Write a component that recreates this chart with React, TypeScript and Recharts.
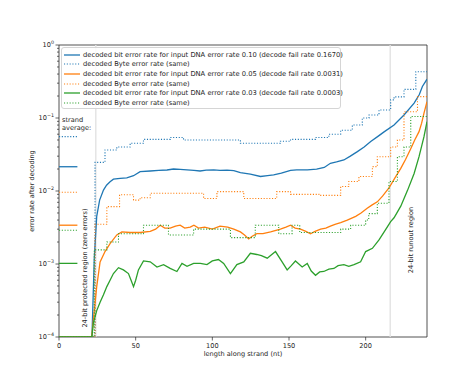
import React from "react";
import { LineChart, Line, XAxis, YAxis, ReferenceLine, ReferenceArea } from "recharts";

type Pt = [number, number];

// decoded bit / Byte error rate along the strand, input DNA error rate 0.10
const bit10: Pt[] = [
  [0, 1e-4], [21.5, 1e-4], [23, 0.0012], [24.6, 0.0045], [26.5, 0.0075], [29, 0.0103], [31, 0.012],
  [33.3, 0.0134], [35.5, 0.0145], [39.9, 0.0149], [44.2, 0.0151], [48.6, 0.0162], [52.9, 0.0184],
  [59.5, 0.0188], [65, 0.0192], [70.4, 0.0194], [74.7, 0.02], [79, 0.0198], [83.5, 0.0195],
  [88, 0.0192], [92, 0.0188], [96, 0.0193], [100.9, 0.0195], [105, 0.0192], [109.6, 0.0193],
  [114, 0.019], [118.3, 0.0178], [124.8, 0.017], [131.4, 0.0158], [136, 0.0162], [140, 0.0166],
  [145, 0.0176], [151, 0.0192], [155, 0.0195], [162, 0.0195], [168, 0.02], [173, 0.021],
  [177, 0.024], [181, 0.025], [185.8, 0.0266], [190, 0.03], [194.6, 0.0346], [199, 0.04],
  [203.3, 0.0476], [208, 0.056], [212, 0.0646], [218.5, 0.08], [225, 0.11], [231.6, 0.16],
  [235, 0.21], [237, 0.27], [240, 0.34],
];
const byte10: Pt[] = [
  [0, 1e-4], [23.5, 0.0247], [30, 0.0365], [37.7, 0.04], [46.4, 0.045], [55.1, 0.051], [72.5, 0.054],
  [81.2, 0.05], [118.3, 0.045], [144.4, 0.048], [151, 0.051], [167.3, 0.054], [176, 0.06],
  [183.7, 0.068], [191.3, 0.08], [197.8, 0.1], [202.2, 0.11], [208.7, 0.129], [216.3, 0.177],
  [218.5, 0.195], [225, 0.247], [232.7, 0.43], [240, 0.43],
];

// input DNA error rate 0.05
const bit05: Pt[] = [
  [0, 1e-4], [21.3, 1e-4], [22.4, 0.00017], [24.6, 0.00049], [26.8, 0.00107], [30, 0.00148],
  [33.3, 0.0019], [37.7, 0.0025], [41, 0.00275], [46.4, 0.0027], [52.9, 0.0027], [59.5, 0.0028],
  [63, 0.003], [66, 0.0034], [69, 0.0031], [72.5, 0.0031], [76, 0.0033], [79, 0.0034], [82, 0.0031],
  [85.6, 0.0032], [88, 0.0034], [91, 0.0031], [95, 0.0032], [100, 0.003], [105, 0.0033],
  [110, 0.0032], [114, 0.003], [118.3, 0.00275], [121, 0.0025], [123.7, 0.0022], [126, 0.0024],
  [129, 0.0026], [133, 0.0026], [138, 0.00275], [144.4, 0.003], [148, 0.0032], [151, 0.0034],
  [154, 0.0031], [157.5, 0.003], [161, 0.0028], [164, 0.0026], [167, 0.0028], [170.6, 0.003],
  [174, 0.0031], [177, 0.0033], [180, 0.0035], [183.7, 0.0037], [188, 0.004], [193.5, 0.0045],
  [197, 0.005], [201, 0.0058], [204, 0.0064], [207.6, 0.0071], [211, 0.0085], [215.2, 0.011],
  [219, 0.015], [222.9, 0.0204], [226, 0.027], [229.4, 0.038], [232, 0.05], [234.8, 0.065],
  [236.5, 0.085], [238, 0.116], [240, 0.167],
];
const byte05: Pt[] = [
  [0, 1e-4], [23.5, 0.0035], [31.2, 0.0061], [39.5, 0.0089], [48.6, 0.0075], [52.9, 0.0081],
  [59.5, 0.0093], [94.3, 0.0079], [103, 0.0098], [120.5, 0.0079], [142, 0.0098], [151, 0.009],
  [169.5, 0.0087], [183.7, 0.0115], [189, 0.0135], [195.6, 0.0158], [204.4, 0.0216],
  [207.6, 0.0295], [216.3, 0.04], [220.7, 0.05], [225, 0.122], [233.8, 0.196], [240, 0.196],
];

// input DNA error rate 0.03
const bit03: Pt[] = [
  [0, 1e-4], [21.4, 1e-4], [22.4, 0.000155], [24.6, 0.00023], [26.8, 0.0003], [29, 0.00038],
  [31.2, 0.00049], [33.3, 0.0006], [35.5, 0.00074], [38.8, 0.00089], [42, 0.00083], [45.3, 0.00074],
  [47, 0.0006], [48.6, 0.00049], [50, 0.0006], [51.8, 0.00083], [55.1, 0.0011], [59.5, 0.00107],
  [63.9, 0.00091], [68.2, 0.00098], [72.5, 0.00087], [76.9, 0.00079], [80.2, 0.00102],
  [83.5, 0.00093], [87.8, 0.00102], [92.2, 0.00102], [96.5, 0.00098], [100, 0.0011], [104, 0.00115],
  [107.4, 0.00102], [111.8, 0.00074], [116, 0.00098], [120.5, 0.00107], [124.8, 0.0014],
  [129, 0.00135], [132, 0.0013], [135.8, 0.0012], [141.2, 0.00148], [145.5, 0.00107],
  [148.8, 0.00083], [151.5, 0.00095], [154.2, 0.0011], [158.6, 0.00091], [161.9, 0.00102],
  [164.5, 0.0008], [167.3, 0.0007], [170, 0.00078], [172.7, 0.00079], [176, 0.00085],
  [179.3, 0.00087], [182, 0.00095], [185.8, 0.00098], [189, 0.00093], [192.4, 0.00098],
  [196.7, 0.00107], [200, 0.00148], [204.4, 0.00164], [208.7, 0.00214], [213, 0.00295],
  [216.3, 0.0038], [218.5, 0.0043], [222.9, 0.0062], [227.3, 0.0102], [231.6, 0.0174],
  [234.8, 0.0295], [238, 0.055], [240, 0.089],
];
const byte03: Pt[] = [
  [0, 1e-4], [23, 0.00156], [31.2, 0.002], [38.8, 0.0026], [55.1, 0.0034], [71.4, 0.0025],
  [87.8, 0.003], [111.8, 0.0023], [128, 0.0034], [143.3, 0.0026], [152, 0.0034], [157, 0.0027],
  [183.7, 0.003], [190.2, 0.0034], [200, 0.004], [202, 0.0049], [207.6, 0.0068], [215.2, 0.0135],
  [220.7, 0.0295], [225, 0.04], [229.4, 0.105], [240, 0.105],
];

// strand averages, drawn as short marks at the left
const avgSpan = [0, 12];
const avgValues = [0.0215, 0.0555, 0.0034, 0.0096, 0.00102, 0.0029];

const legendLabels = [
  "decoded bit error rate for input DNA error rate 0.10 (decode fail rate 0.1670)",
  "decoded Byte error rate (same)",
  "decoded bit error rate for input DNA error rate 0.05 (decode fail rate 0.0031)",
  "decoded Byte error rate (same)",
  "decoded bit error rate for input DNA error rate 0.03 (decode fail rate 0.0003)",
  "decoded Byte error rate (same)",
];

const xTicks = [0, 50, 100, 150, 200];
const yMajor = [1e-4, 1e-3, 1e-2, 1e-1, 1];
const regionLines = [24, 216];

const colors = ["#1f77b4", "#1f77b4", "#ff7f0e", "#ff7f0e", "#2ca02c", "#2ca02c"];
const dotted = [false, true, false, true, false, true];
const series = [bit10, byte10, bit05, byte05, bit03, byte03];

const FONT = "'DejaVu Sans', sans-serif";
const INK = "#262626";
const DOTS = "1.1 1.7";

const yTicks: number[] = [];
yMajor.forEach((d, i) => {
  yTicks.push(d);
  if (i < yMajor.length - 1) for (let m = 2; m <= 9; m++) yTicks.push(m * d);
});

const toRows = (pts: Pt[]) => pts.map(([x, y]) => ({ x, y }));

const YTick = (props: any) => {
  const { x, y, payload } = props;
  const lg = Math.log10(payload.value);
  const exp = Math.round(lg);
  const major = Math.abs(lg - exp) < 1e-6;
  return (
    <g>
      <line x1={x - (major ? 3.5 : 2)} x2={x} y1={y} y2={y} stroke={INK} strokeWidth={0.7} />
      {major && (
        <text x={x - 5} y={y} dy={2.4} textAnchor="end" fontSize={6.6} fill={INK} fontFamily={FONT}>
          10
          <tspan dy={-3.2} fontSize={4.8}>{exp === 0 ? "0" : "\u2212" + -exp}</tspan>
        </text>
      )}
    </g>
  );
};

const XTick = (props: any) => {
  const { x, y, payload } = props;
  return (
    <g>
      <line x1={x} x2={x} y1={y} y2={y + 3.5} stroke={INK} strokeWidth={0.7} />
      <text x={x} y={y + 11} textAnchor="middle" fontSize={6.6} fill={INK} fontFamily={FONT}>
        {payload.value}
      </text>
    </g>
  );
};

const XLabel = (props: any) => {
  const { viewBox } = props;
  return (
    <text
      x={viewBox.x + viewBox.width / 2}
      y={viewBox.y + 19}
      textAnchor="middle"
      fontSize={6.6}
      fill={INK}
      fontFamily={FONT}
    >
      length along strand (nt)
    </text>
  );
};

const text: React.CSSProperties = {
  position: "absolute",
  fontFamily: FONT,
  fontSize: 6.6,
  color: INK,
  whiteSpace: "nowrap",
  lineHeight: "8px",
};

export default function App() {
  return (
    <div style={{ position: "absolute", left: 0, top: 0, width: 474, height: 379, background: "#fff" }}>
      <LineChart width={474} height={379} margin={{ top: 45, right: 47, bottom: 12, left: 0 }}>
        <XAxis
          dataKey="x"
          type="number"
          domain={[0, 240]}
          ticks={xTicks}
          height={30}
          axisLine={false}
          tickLine={false}
          tickSize={0}
          tickMargin={0}
          tick={<XTick />}
          label={<XLabel />}
          allowDataOverflow
        />
        <YAxis
          dataKey="y"
          scale="log"
          type="number"
          domain={[1e-4, 1]}
          ticks={yTicks}
          width={59}
          axisLine={false}
          tickLine={false}
          tickSize={0}
          tickMargin={0}
          tick={<YTick />}
          interval={0}
          allowDataOverflow
        />
        {regionLines.map((v) => (
          <ReferenceLine key={v} x={v} stroke="#e3e3e3" strokeWidth={1.4} />
        ))}
        {series.map((s, i) => (
          <Line
            key={"s" + i}
            data={toRows(s)}
            dataKey="y"
            type={dotted[i] ? "stepAfter" : "linear"}
            stroke={colors[i]}
            strokeWidth={dotted[i] ? 1.1 : 1.3}
            strokeDasharray={dotted[i] ? DOTS : undefined}
            dot={false}
            activeDot={false}
            isAnimationActive={false}
          />
        ))}
        {avgValues.map((v, i) => (
          <Line
            key={"a" + i}
            data={avgSpan.map((x) => ({ x, y: v }))}
            dataKey="y"
            stroke={colors[i]}
            strokeWidth={dotted[i] ? 1.1 : 1.3}
            strokeDasharray={dotted[i] ? DOTS : undefined}
            dot={false}
            activeDot={false}
            isAnimationActive={false}
          />
        ))}
        <ReferenceArea x1={0} x2={240} y1={1e-4} y2={1} fill="none" stroke={INK} strokeWidth={0.8} />
      </LineChart>

      {/* legend */}
      <div
        style={{
          position: "absolute",
          left: 61,
          top: 47,
          width: 280,
          height: 62,
          border: "1px solid #d5d5d5",
          borderRadius: 3,
          background: "rgba(255,255,255,0.85)",
          boxSizing: "border-box",
        }}
      >
        {legendLabels.map((label, i) => (
          <div key={i} style={{ ...text, fontSize: 6.75, left: 0, top: 2.5 + i * 9.7, height: 8 }}>
            <svg width={20} height={8} style={{ position: "absolute", left: 2, top: 0 }}>
              <line
                x1={0}
                x2={16}
                y1={4}
                y2={4}
                stroke={colors[i]}
                strokeWidth={dotted[i] ? 1.1 : 1.3}
                strokeDasharray={dotted[i] ? DOTS : undefined}
              />
            </svg>
            <span style={{ position: "absolute", left: 21, top: 0 }}>{label}</span>
          </div>
        ))}
      </div>

      <div style={{ ...text, left: 62, top: 116 }}>
        strand
        <br />
        average:
      </div>

      <div style={{ ...text, left: 32, top: 191, transform: "translate(-50%,-50%) rotate(-90deg)" }}>
        error rate after decoding
      </div>
      <div style={{ ...text, left: 85, top: 268, transform: "translate(-50%,-50%) rotate(-90deg)" }}>
        24-bit protected region (zero errors)
      </div>
      <div style={{ ...text, left: 411, top: 240, transform: "translate(-50%,-50%) rotate(-90deg)" }}>
        24-bit runout region
      </div>
    </div>
  );
}
